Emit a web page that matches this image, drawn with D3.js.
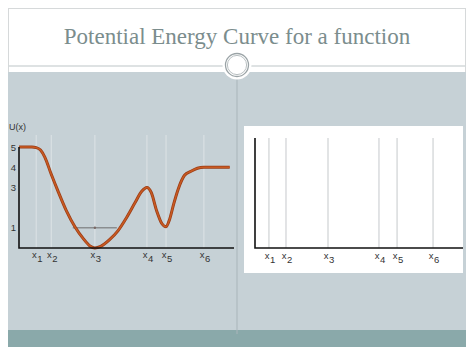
<!DOCTYPE html>
<html>
<head>
<meta charset="utf-8">
<script src="https://cdn.jsdelivr.net/npm/d3@7"></script>
<style>
  body { margin: 0; background: #fff; }
  svg { display: block; }
</style>
</head>
<body>
<script>
(function(){

//chart data
var titleText = "Potential Energy Curve for a function";
var markNames = ["1", "2", "3", "4", "5", "6"];        //x subscripts
var markLeft = [8, 15, 35.3, 59.5, 68.4, 86];          //x positions, left chart
var markRight = [6.7, 14.9, 35.1, 59.6, 68.3, 85.6];   //x positions, right chart
var yTicks = [1, 3, 4, 5];
var curveX = [0, 6, 8, 10, 12, 15, 18, 22, 26, 30, 33, 35.3, 38, 42, 46, 50, 54, 57, 59.5, 61.5, 64, 66.5, 68.4, 70, 72, 74, 77, 80, 83, 86, 98];
var curveU = [5, 5, 4.97, 4.85, 4.5, 3.65, 2.85, 1.85, 1.05, 0.45, 0.1, 0, 0.08, 0.4, 0.85, 1.5, 2.25, 2.8, 3.0, 2.75, 1.85, 1.2, 1.05, 1.4, 2.2, 2.9, 3.6, 3.8, 3.95, 4.0, 4.0];
var energyLevel = 1;
var energyFrom = 25, energyTo = 45.5;

var width = 474, height = 355;
var sans = "'Liberation Sans', Arial, sans-serif";

var svg = d3.select("body")
    .append("svg")
    .attr("width", width)
    .attr("height", height);

//slide frame
svg.append("rect")
    .attr("x", 8.5).attr("y", 8.5)
    .attr("width", 457).attr("height", 338)
    .attr("fill", "#fff")
    .attr("stroke", "#d6d9da");

//grey content panel and teal band
svg.append("rect")
    .attr("x", 8).attr("y", 72)
    .attr("width", 458).attr("height", 258)
    .attr("fill", "#c6d1d6");
svg.append("rect")
    .attr("x", 8).attr("y", 330)
    .attr("width", 458).attr("height", 17)
    .attr("fill", "#8aa9aa");

//divider
svg.append("line")
    .attr("x1", 237).attr("x2", 237)
    .attr("y1", 72).attr("y2", 334)
    .attr("stroke", "#a9b5ba");

//title rule and ornament
svg.append("line")
    .attr("x1", 8).attr("x2", 466)
    .attr("y1", 66).attr("y2", 66)
    .attr("stroke", "#d3d8da").attr("stroke-width", 1.5);
svg.append("circle")
    .attr("cx", 237).attr("cy", 65).attr("r", 14.5)
    .attr("fill", "#fff");
svg.append("circle")
    .attr("cx", 237).attr("cy", 65).attr("r", 11.5)
    .attr("fill", "none").attr("stroke", "#9aa3a6").attr("stroke-width", 1.3);
svg.append("circle")
    .attr("cx", 237).attr("cy", 65).attr("r", 9.6)
    .attr("fill", "none").attr("stroke", "#b9c0c2").attr("stroke-width", 1);

svg.append("text")
    .attr("x", 237).attr("y", 44)
    .attr("text-anchor", "middle")
    .attr("font-family", "'Liberation Serif', serif")
    .attr("font-size", 23)
    .attr("fill", "#7b8d8d")
    .text(titleText);

//draws an "x" label with subscript under a grid line
function xLabel(g, x, sub, y){
    var t = g.append("text")
        .attr("x", x + 1).attr("y", y)
        .attr("text-anchor", "middle")
        .attr("font-family", sans)
        .attr("font-size", 9.5)
        .attr("fill", "#333");
    t.append("tspan").text("x");
    t.append("tspan").attr("dx", 0.5).attr("dy", 4).text(sub);
}

//left chart: potential energy curve
var xL = d3.scaleLinear().domain([0, 100]).range([19, 234]);
var yL = d3.scaleLinear().domain([0, 5]).range([248, 147]);
var left = svg.append("g");

left.selectAll(".grid")
    .data(markLeft)
    .enter().append("line")
    .attr("x1", function(d){ return xL(d); })
    .attr("x2", function(d){ return xL(d); })
    .attr("y1", 135).attr("y2", 248)
    .attr("stroke", "#dde3e6").attr("stroke-width", 1);

markLeft.forEach(function(d, i){ xLabel(left, xL(d), markNames[i], 258); });

left.selectAll(".ytick")
    .data(yTicks)
    .enter().append("text")
    .attr("x", 13.5).attr("y", function(d){ return yL(d) + 3.5; })
    .attr("text-anchor", "middle")
    .attr("font-family", sans)
    .attr("font-size", 9.5)
    .attr("fill", "#333")
    .text(function(d){ return d; });

left.append("text")
    .attr("x", 9).attr("y", 130)
    .attr("font-family", sans)
    .attr("font-size", 9)
    .attr("fill", "#333")
    .text("U(x)");

//energy level line
left.append("line")
    .attr("x1", xL(energyFrom)).attr("x2", xL(energyTo))
    .attr("y1", yL(energyLevel)).attr("y2", yL(energyLevel))
    .attr("stroke", "#8a8e90").attr("stroke-width", 1.4);
left.append("circle")
    .attr("cx", xL(markLeft[2])).attr("cy", yL(energyLevel)).attr("r", 1.2)
    .attr("fill", "#7a6a66");

var line = d3.line()
    .x(function(d){ return xL(d[0]); })
    .y(function(d){ return yL(d[1]); })
    .curve(d3.curveMonotoneX);
var pts = curveX.map(function(d, i){ return [d, curveU[i]]; });

left.append("path")
    .datum(pts)
    .attr("d", line)
    .attr("fill", "none")
    .attr("stroke", "#9a3c16").attr("stroke-width", 3)
    .attr("stroke-linejoin", "round");
left.append("path")
    .datum(pts)
    .attr("d", line)
    .attr("fill", "none")
    .attr("stroke", "#c85a22").attr("stroke-width", 1.5)
    .attr("stroke-linejoin", "round");

//axes
left.append("path")
    .attr("d", "M" + xL(0) + "," + yL(5) + "V" + yL(0) + "H" + xL(100))
    .attr("fill", "none").attr("stroke", "#111").attr("stroke-width", 1.6);

//right chart: empty axes
var xR = d3.scaleLinear().domain([0, 100]).range([255, 463]);
var right = svg.append("g");
right.append("rect")
    .attr("x", 244).attr("y", 126)
    .attr("width", 219).attr("height", 147)
    .attr("fill", "#fff");
right.selectAll(".grid")
    .data(markRight)
    .enter().append("line")
    .attr("x1", function(d){ return xR(d); })
    .attr("x2", function(d){ return xR(d); })
    .attr("y1", 138).attr("y2", 248)
    .attr("stroke", "#cfd2d4").attr("stroke-width", 1.2);
markRight.forEach(function(d, i){ xLabel(right, xR(d), markNames[i], 259); });
right.append("path")
    .attr("d", "M" + xR(0) + ",138V248H" + xR(100))
    .attr("fill", "none").attr("stroke", "#111").attr("stroke-width", 1.6);

})();
</script>
</body>
</html>
